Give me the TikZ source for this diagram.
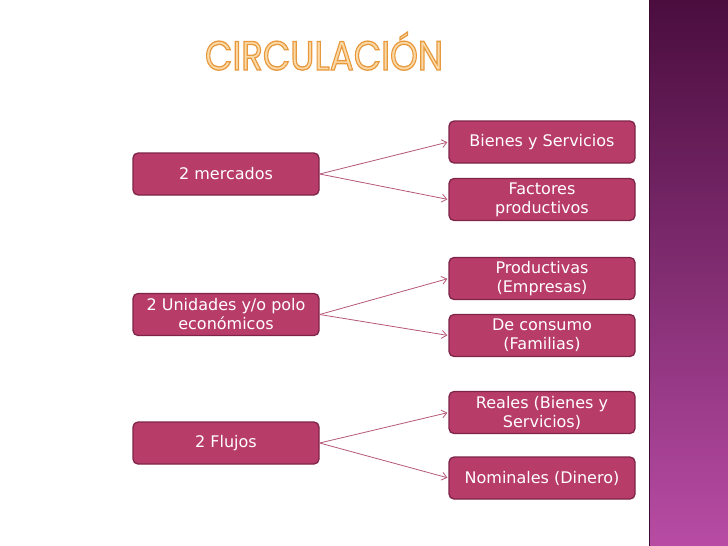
\documentclass[tikz,border=0pt]{standalone}
\usepackage{fontspec}
\usepackage{graphicx}
\usepackage{tikz}
\usetikzlibrary{arrows.meta,positioning}
\setmainfont{DejaVu Sans}
\newfontfamily\titlefont{Poppins}
\definecolor{boxfill}{HTML}{B83C68}
\definecolor{boxedge}{HTML}{7E2448}
\definecolor{linkcol}{HTML}{B5577A}
\definecolor{stripetop}{HTML}{4A0D3E}
\definecolor{stripebot}{HTML}{B84CA4}
\definecolor{titlefill}{HTML}{FBD9A6}
% outlined title letters: fill with titlefill, stroke in orange
\newcommand{\outlined}[1]{{\color{titlefill}\special{pdf:literal direct 2 Tr 0.5 w 0.91 0.60 0.24 RG}#1\special{pdf:literal direct 0 Tr}}}

\begin{document}
\begin{tikzpicture}[x=1pt, y=-1pt,
  every node/.style={font=\fontsize{16}{19}\selectfont},
  boxnode/.style={draw=boxedge, line width=1.3pt, fill=boxfill, rounded corners=5pt,
    minimum width=186pt, minimum height=42pt, inner sep=2pt, text=white, align=center},
  link/.style={draw=linkcol, line width=0.8pt, -{Straight Barb[length=5pt,width=8pt]}, shorten >=1pt}]
  \useasboundingbox (0,0) rectangle (728,546);

  % side stripe
  \shade[top color=stripetop, bottom color=stripebot] (649,0) rectangle (728,546);
  \draw[stripetop!80!black, line width=1pt] (649.5,0) -- (649.5,546);

  % title
  \node[inner sep=0pt, anchor=base] (title) at (324,70)
    {\resizebox{238pt}{38pt}{\titlefont\outlined{CIRCULACIÓN}}};

  % left column
  \node[boxnode] (merc) at (226,174) {2 mercados};
  \node[boxnode] (unid) at (226,314.5) {2 Unidades y/o polo\\económicos};
  \node[boxnode] (fluj) at (226,443) {2 Flujos};

  % right column
  \node[boxnode] (bien) at (542,142) {Bienes y Servicios};
  \node[boxnode] (fact) at (542,199.5) {Factores\\productivos};
  \node[boxnode] (prod) at (542,278.5) {Productivas\\(Empresas)};
  \node[boxnode] (cons) at (542,335.5) {De consumo\\(Familias)};
  \node[boxnode] (real) at (542,412.5) {Reales (Bienes y\\Servicios)};
  \node[boxnode] (nomi) at (542,478) {Nominales (Dinero)};

  % arrows
  \foreach \src/\dst in {merc/bien, merc/fact, unid/prod, unid/cons, fluj/real, fluj/nomi}
    \draw[link] (\src.east) -- (\dst.west);
\end{tikzpicture}
\end{document}
